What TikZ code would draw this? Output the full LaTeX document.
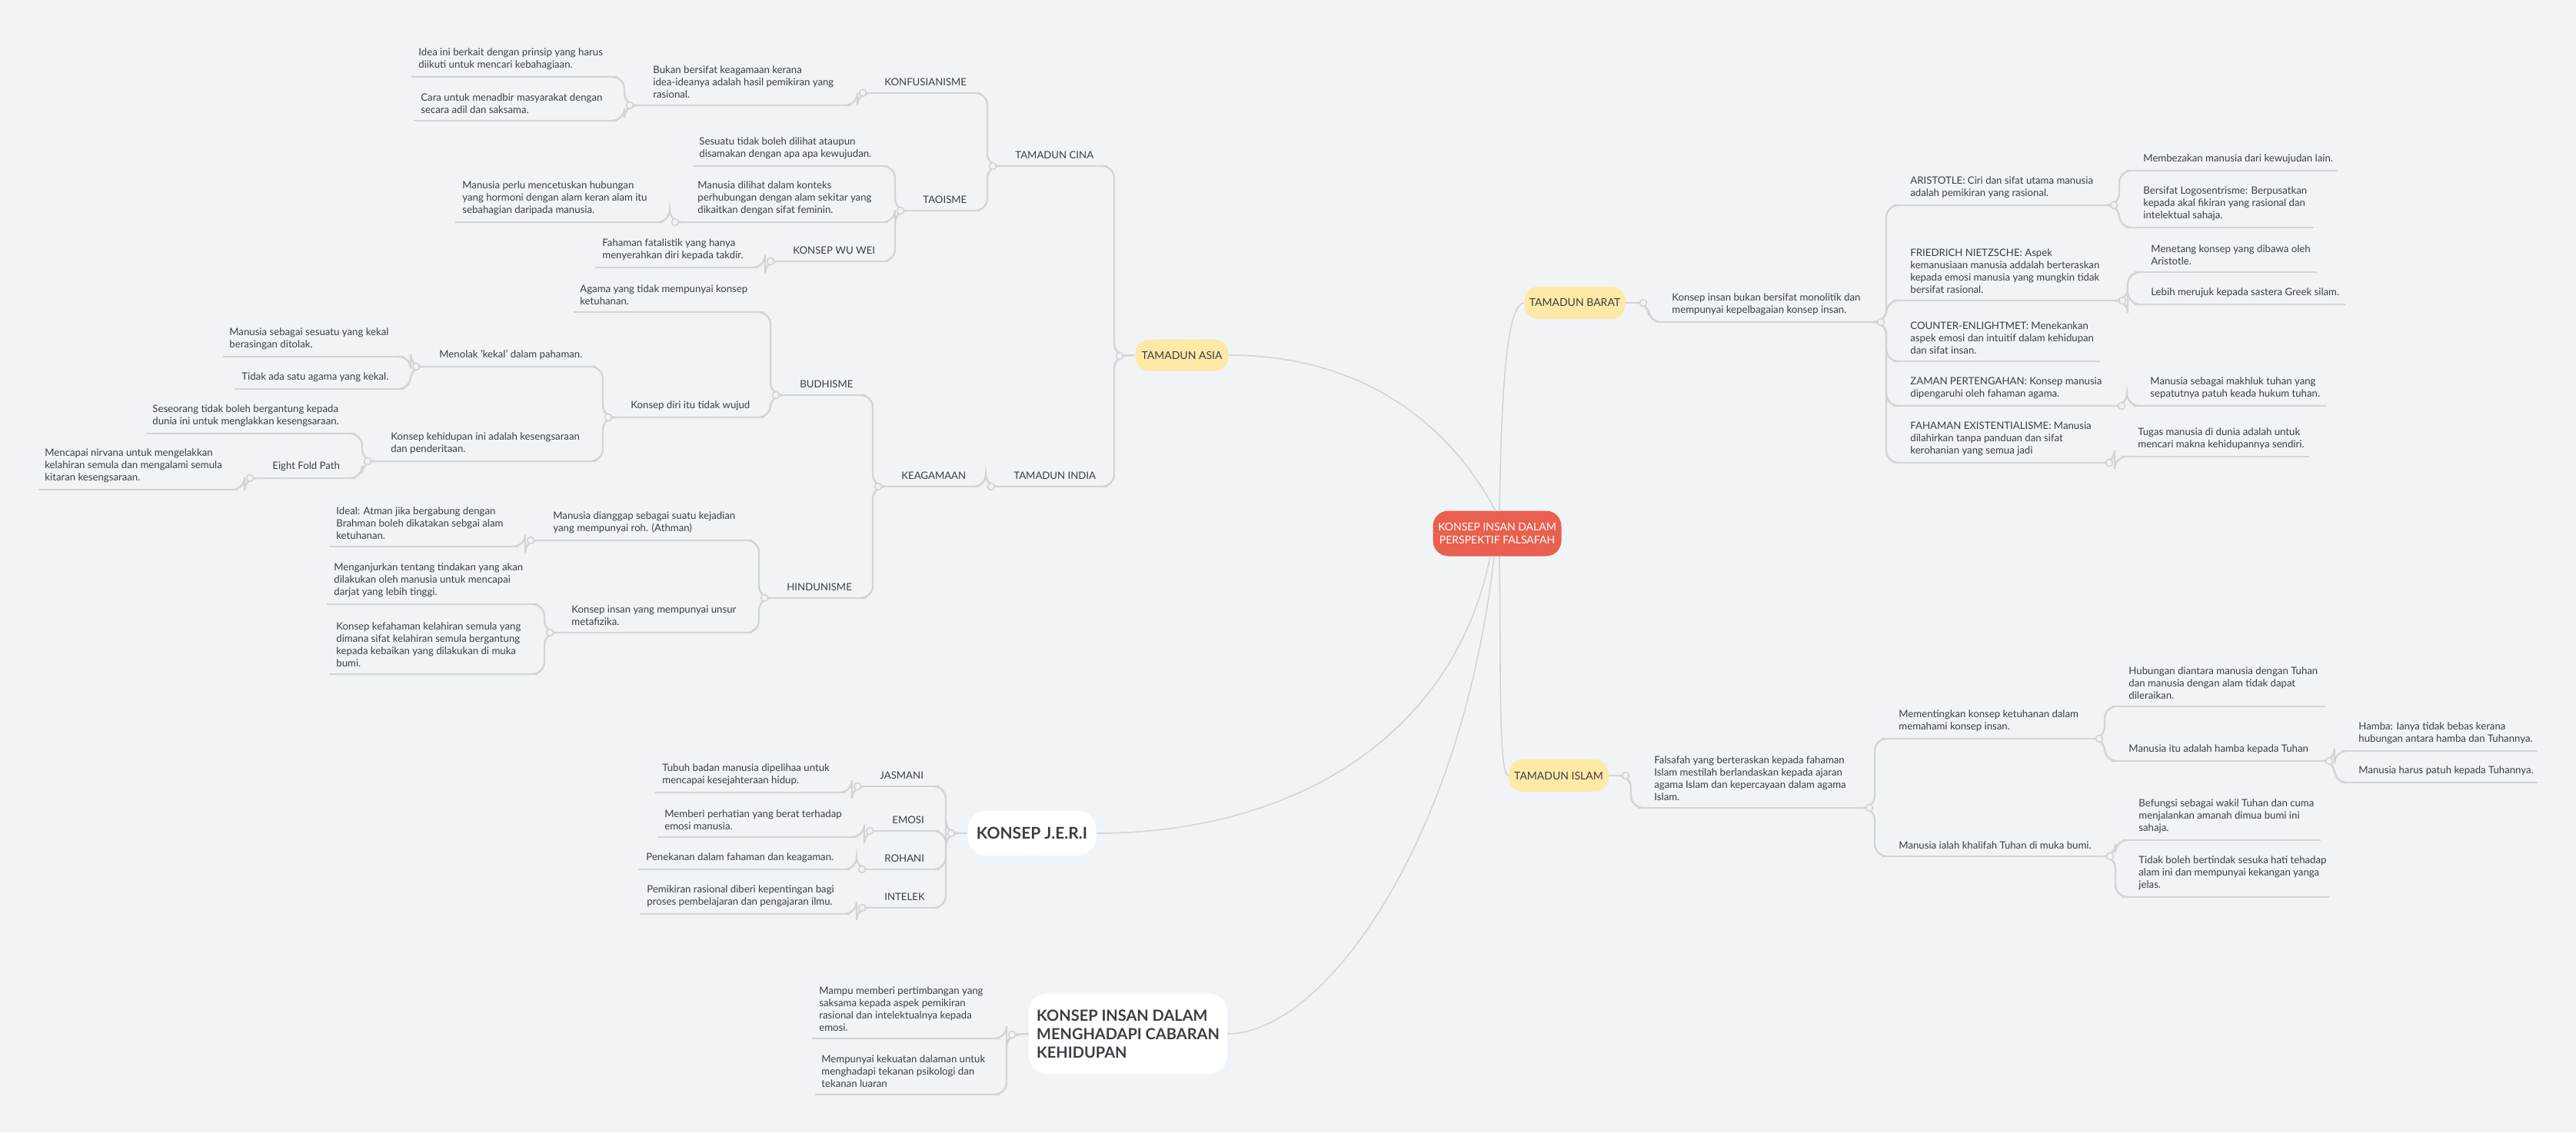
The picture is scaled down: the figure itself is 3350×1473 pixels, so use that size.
\documentclass[tikz,border=0pt]{standalone}
\usepackage{fontspec}
\setmainfont{Lato}
\definecolor{bg}{HTML}{F0F4F7}
\definecolor{lnc}{HTML}{D2D5D8}
\definecolor{tc}{HTML}{3A3F45}
\definecolor{yel}{HTML}{FFE9A6}
\definecolor{redc}{HTML}{E9604E}
\tikzset{
 ln/.style={draw=lnc,line width=1.2pt},
 mainln/.style={draw=lnc,line width=0.8pt},
 txt/.style={inner sep=0pt,align=left,text=tc,font=\fontsize{6.6}{8}\selectfont},
 dot/.style={circle,draw=lnc,fill=bg,line width=0.8pt,minimum size=4.5pt,inner sep=0pt},
 pill/.style={rounded corners=9pt,fill=yel,text=tc,font=\fontsize{7}{8.5}\selectfont,inner sep=0pt},
 wpill/.style={rounded corners=12pt,fill=white,text=tc,inner sep=0pt,align=left}
}
\newcommand\nd[6]{\coordinate (#1L) at (#2,#4); \coordinate (#1R) at (#3,#4);
 \draw[ln] (#1L)--(#1R);
 \node[txt,anchor=south west] (#1) at (#5,#4-9) {#6};}
\newcommand\cl[2]{\draw[ln,rounded corners=8] (#1) -- ++(-7,0) |- (#2R);}
\newcommand\crr[2]{\draw[ln,rounded corners=8] (#1) -- ++(7,0) |- (#2L);}
\begin{document}
\begin{tikzpicture}[x=0.5pt,y=-0.5pt]
\fill[bg] (0,0) rectangle (3350,1473);
\useasboundingbox (0,0) rectangle (3350,1473);
% main nodes
\node[rounded corners=10pt,fill=redc,text=white,align=center,font=\fontsize{7}{8.5}\selectfont,minimum width=83.5pt,minimum height=29.5pt,inner sep=0pt] (center) at (1947,694) {KONSEP INSAN DALAM\\PERSPEKTIF FALSAFAH};
\node[pill,minimum width=60.5pt,minimum height=20.5pt] (asia) at (1537,462) {TAMADUN ASIA};
\node[pill,minimum width=65.5pt,minimum height=21pt] (barat) at (2048,394) {TAMADUN BARAT};
\node[pill,minimum width=65pt,minimum height=21pt] (islam) at (2027,1009) {TAMADUN ISLAM};
\node[wpill,minimum width=83.5pt,minimum height=29pt,align=center,font=\fontsize{10.5}{12}\bfseries] (jeri) at (1342,1084) {KONSEP J.E.R.I};
\node[wpill,minimum width=129pt,minimum height=52.5pt,font=\fontsize{10}{12}\bfseries] (cab) at (1467,1345) {KONSEP INSAN DALAM\\MENGHADAPI CABARAN\\KEHIDUPAN};
\coordinate (ctop) at (1945,665);
\coordinate (cbot) at (1945,724);
\draw[mainln] (asia.east) .. controls (1780,462) and (1890,560) .. (ctop);
\draw[mainln] (barat.west) .. controls (1955,394) and (1952,560) .. (1950,665);
\draw[mainln] (islam.west) .. controls (1948,1009) and (1952,850) .. (1950,724);
\draw[mainln] (jeri.east) .. controls (1680,1084) and (1890,960) .. (1938,724);
\draw[mainln] (cab.east) .. controls (1720,1345) and (1900,1100) .. (1943,724);
% junctions of main nodes
\coordinate (AJ) at (1456,463);
\coordinate (BJ) at (2137,394);
\coordinate (IJ) at (2114,1009);
\coordinate (JJ) at (1237,1084);
\coordinate (CJ) at (1316,1346);
\draw[ln] (asia.west)--(AJ); \draw[ln] (barat.east)--(BJ); \draw[ln] (islam.east)--(IJ);
\draw[ln] (jeri.west)--(JJ); \draw[ln] (cab.west)--(CJ);
% ===== TAMADUN CINA
\nd{cina}{1291}{1440}{216}{1320}{TAMADUN CINA}
\nd{india}{1289}{1440}{633}{1318}{TAMADUN INDIA}
\cl{AJ}{cina} \cl{AJ}{india}
\nd{konf}{1122}{1275}{121}{1150}{KONFUSIANISME}
\nd{tao}{1171}{1275}{274}{1200}{TAOISME}
\cl{cinaL}{konf} \cl{cinaL}{tao}
\nd{wuwei}{1002}{1155}{340}{1031}{KONSEP WU WEI}
\nd{tA}{901}{1155}{216}{909}{Sesuatu tidak boleh dilihat ataupun\\disamakan dengan apa apa kewujudan.}
\nd{tB}{878}{1155}{289}{907}{Manusia dilihat dalam konteks\\perhubungan dengan alam sekitar yang\\dikaitkan dengan sifat feminin.}
\cl{taoL}{wuwei} \cl{taoL}{tA} \cl{taoL}{tB}
\nd{tBa}{592}{862}{289}{601}{Manusia perlu mencetuskan hubungan\\yang hormoni dengan alam keran alam itu\\sebahagian daripada manusia.}
\cl{tBL}{tBa}
\nd{wA}{774}{986}{348}{783}{Fahaman fatalistik yang hanya\\menyerahkan diri kepada takdir.}
\cl{wuweiL}{wA}
\nd{kA}{819}{1106}{137}{849}{Bukan bersifat keagamaan kerana\\idea-ideanya adalah hasil pemikiran yang\\rasional.}
\cl{konfL}{kA}
\nd{kAa}{535}{803}{100}{544}{Idea ini berkait dengan prinsip yang harus\\diikuti untuk mencari kebahagiaan.}
\nd{kAb}{538}{803}{157}{547}{Cara untuk menadbir masyarakat dengan\\secara adil dan saksama.}
\cl{kAL}{kAa} \cl{kAL}{kAb}
% ===== INDIA
\nd{keag}{1142}{1273}{633}{1172}{KEAGAMAAN}
\cl{indiaL}{keag}
\nd{bud}{1009}{1126}{514}{1040}{BUDHISME}
\nd{hin}{994}{1126}{778}{1023}{HINDUNISME}
\cl{keagL}{bud} \cl{keagL}{hin}
\nd{bA}{746}{993}{406}{754}{Agama yang tidak mempunyai konsep\\ketuhanan.}
\nd{bB}{791}{993}{543}{820}{Konsep diri itu tidak wujud}
\cl{budL}{bA} \cl{budL}{bB}
\nd{mn}{541}{775}{477}{571}{Menolak 'kekal' dalam pahaman.}
\nd{kh}{478}{775}{600}{508}{Konsep kehidupan ini adalah kesengsaraan\\dan penderitaan.}
\cl{bBL}{mn} \cl{bBL}{kh}
\nd{mnA}{290}{525}{464}{298}{Manusia sebagai sesuatu yang kekal\\berasingan ditolak.}
\nd{mnB}{305}{525}{506}{314}{Tidak ada satu agama yang kekal.}
\cl{mnL}{mnA} \cl{mnL}{mnB}
\nd{khA}{190}{462}{564}{198}{Seseorang tidak boleh bergantung kepada\\dunia ini untuk menglakkan kesengsaraan.}
\nd{efp}{325}{462}{622}{354}{Eight Fold Path}
\cl{khL}{khA} \cl{khL}{efp}
\nd{efA}{50}{309}{637}{58}{Mencapai nirvana untuk mengelakkan\\kelahiran semula dan mengalami semula\\kitaran kesengsaraan.}
\cl{efpL}{efA}
\nd{hA}{690}{978}{703}{719}{Manusia dianggap sebagai suatu kejadian\\yang mempunyai roh. (Athman)}
\nd{hB}{715}{978}{823}{743}{Konsep insan yang mempunyai unsur\\metafizika.}
\cl{hinL}{hA} \cl{hinL}{hB}
\nd{hAa}{428}{674}{711}{437}{Ideal: Atman jika bergabung dengan\\Brahman boleh dikatakan sebgai alam\\ketuhanan.}
\cl{hAL}{hAa}
\nd{hBa}{425}{699}{786}{434}{Menganjurkan tentang tindakan yang akan\\dilakukan oleh manusia untuk mencapai\\darjat yang lebih tinggi.}
\nd{hBb}{428}{699}{877}{437}{Konsep kefahaman kelahiran semula yang\\dimana sifat kelahiran semula bergantung\\kepada kebaikan yang dilakukan di muka\\bumi.}
\cl{hBL}{hBa} \cl{hBL}{hBb}
% ===== JERI
\nd{jas}{1115}{1221}{1023}{1144}{JASMANI}
\nd{emo}{1131}{1221}{1081}{1160}{EMOSI}
\nd{roh}{1121}{1221}{1131}{1150}{ROHANI}
\nd{int}{1121}{1221}{1181}{1150}{INTELEK}
\cl{JJ}{jas} \cl{JJ}{emo} \cl{JJ}{roh} \cl{JJ}{int}
\nd{jasA}{852}{1099}{1031}{861}{Tubuh badan manusia dipelihaa untuk\\mencapai kesejahteraan hidup.}
\nd{emoA}{855}{1115}{1089}{864}{Memberi perhatian yang berat terhadap\\emosi manusia.}
\nd{rohA}{830}{1105}{1131}{840}{Penekanan dalam fahaman dan keagaman.}
\nd{intA}{832}{1105}{1189}{841}{Pemikiran rasional diberi kepentingan bagi\\proses pembelajaran dan pengajaran ilmu.}
\cl{jasL}{jasA} \cl{emoL}{emoA} \cl{rohL}{rohA} \cl{intL}{intA}
% ===== CABARAN
\nd{cbA}{1056}{1300}{1351}{1065}{Mampu memberi pertimbangan yang\\saksama kepada aspek pemikiran\\rasional dan intelektualnya kepada\\emosi.}
\nd{cbB}{1060}{1300}{1424}{1068}{Mempunyai kekuatan dalaman untuk\\menghadapi tekanan psikologi dan\\tekanan luaran}
\cl{CJ}{cbA} \cl{CJ}{cbB}
% ===== BARAT
\nd{bk}{2153}{2446}{419}{2174}{Konsep insan bukan bersifat monolitik dan\\mempunyai kepelbagaian konsep insan.}
\crr{BJ}{bk}
\nd{ar}{2462}{2749}{267}{2484}{ARISTOTLE: Ciri dan sifat utama manusia\\adalah pemikiran yang rasional.}
\nd{ni}{2462}{2760}{391}{2484}{FRIEDRICH NIETZSCHE: Aspek\\kemanusiaan manusia addalah berteraskan\\kepada emosi manusia yang mungkin tidak\\bersifat rasional.}
\nd{co}{2462}{2731}{470}{2484}{COUNTER-ENLIGHTMET: Menekankan\\aspek emosi dan intuitif dalam kehidupan\\dan sifat insan.}
\nd{za}{2462}{2759}{528}{2484}{ZAMAN PERTENGAHAN: Konsep manusia\\dipengaruhi oleh fahaman agama.}
\nd{fa}{2462}{2743}{602}{2484}{FAHAMAN EXISTENTIALISME: Manusia\\dilahirkan tanpa panduan dan sifat\\kerohanian yang semua jadi}
\crr{bkR}{ar} \crr{bkR}{ni} \crr{bkR}{co} \crr{bkR}{za} \crr{bkR}{fa}
\nd{arA}{2765}{3040}{222}{2787}{Membezakan manusia dari kewujudan lain.}
\nd{arB}{2765}{3009}{296}{2787}{Bersifat Logosentrisme: Berpusatkan\\kepada akal fikiran yang rasional dan\\intelektual sahaja.}
\crr{arR}{arA} \crr{arR}{arB}
\nd{niA}{2776}{3013}{354}{2797}{Menetang konsep yang dibawa oleh\\Aristotle.}
\nd{niB}{2776}{3050}{396}{2797}{Lebih merujuk kepada sastera Greek silam.}
\crr{niR}{niA} \crr{niR}{niB}
\nd{zaA}{2775}{3025}{528}{2796}{Manusia sebagai makhluk tuhan yang\\sepatutnya patuh keada hukum tuhan.}
\crr{zaR}{zaA}
\nd{faA}{2759}{3003}{594}{2780}{Tugas manusia di dunia adalah untuk\\mencari makna kehidupannya sendiri.}
\crr{faR}{faA}
% ===== ISLAM
\nd{fs}{2130}{2431}{1051}{2151}{Falsafah yang berteraskan kepada fahaman\\Islam mestilah berlandaskan kepada ajaran\\agama Islam dan kepercayaan dalam agama\\Islam.}
\crr{IJ}{fs}
\nd{me}{2447}{2730}{961}{2469}{Mementingkan konsep ketuhanan dalam\\memahami konsep insan.}
\nd{kf}{2447}{2744}{1114}{2469}{Manusia ialah khalifah Tuhan di muka bumi.}
\crr{fsR}{me} \crr{fsR}{kf}
\nd{meA}{2746}{3024}{919}{2768}{Hubungan diantara manusia dengan Tuhan\\dan manusia dengan alam tidak dapat\\dileraikan.}
\nd{hm}{2746}{3029}{990}{2768}{Manusia itu adalah hamba kepada Tuhan}
\crr{meR}{meA} \crr{meR}{hm}
\nd{hmA}{3045}{3300}{977}{3067}{Hamba: Ianya tidak bebas kerana\\hubungan antara hamba dan Tuhannya.}
\nd{hmB}{3045}{3300}{1018}{3067}{Manusia harus patuh kepada Tuhannya.}
\crr{hmR}{hmA} \crr{hmR}{hmB}
\nd{kfA}{2760}{3018}{1093}{2781}{Befungsi sebagai wakil Tuhan dan cuma\\menjalankan amanah dimua bumi ini\\sahaja.}
\nd{kfB}{2760}{3030}{1167}{2781}{Tidak boleh bertindak sesuka hati tehadap\\alam ini dan mempunyai kekangan yanga\\jelas.}
\crr{kfR}{kfA} \crr{kfR}{kfB}
% ===== dots
\foreach \p in {AJ,BJ,IJ,JJ,CJ,cinaL,indiaL,konfL,taoL,wuweiL,tBL,kAL,keagL,budL,hinL,bBL,mnL,khL,efpL,hAL,hBL,jasL,emoL,rohL,intL,bkR,arR,niR,zaR,faR,fsR,meR,hmR,kfR}
  \node[dot] at (\p) {};
\end{tikzpicture}
\end{document}
